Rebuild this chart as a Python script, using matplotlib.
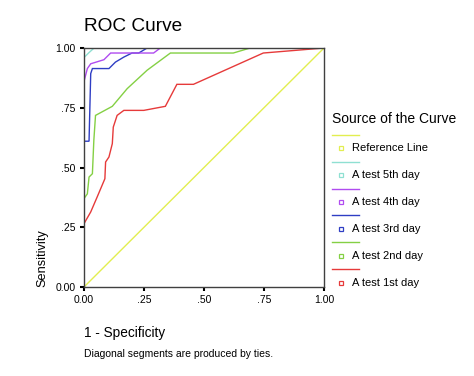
import matplotlib
matplotlib.use('Agg')
import matplotlib.pyplot as plt
from matplotlib.lines import Line2D

plt.rcParams['font.family'] = ['Liberation Sans', 'DejaVu Sans']

# ROC points (1 - specificity, sensitivity)
x_day1 = [0.0, 0.0, 0.028, 0.055, 0.087, 0.090, 0.104, 0.118, 0.122, 0.138, 0.166, 0.249, 0.339, 0.387, 0.456, 0.747, 1.0]
y_day1 = [0.0, 0.265, 0.314, 0.377, 0.453, 0.523, 0.544, 0.600, 0.669, 0.718, 0.739, 0.739, 0.756, 0.848, 0.848, 0.979, 1.0]

x_day2 = [0.0, 0.0, 0.014, 0.021, 0.035, 0.041, 0.048, 0.118, 0.180, 0.263, 0.360, 0.622, 0.692, 1.0]
y_day2 = [0.0, 0.370, 0.390, 0.460, 0.474, 0.614, 0.718, 0.756, 0.830, 0.907, 0.979, 0.979, 1.0, 1.0]

x_day3 = [0.0, 0.0, 0.021, 0.028, 0.035, 0.104, 0.131, 0.166, 0.200, 0.228, 0.263, 1.0]
y_day3 = [0.0, 0.610, 0.610, 0.893, 0.914, 0.914, 0.941, 0.962, 0.979, 0.979, 1.0, 1.0]

x_day4 = [0.0, 0.0, 0.014, 0.028, 0.083, 0.111, 0.290, 0.318, 1.0]
y_day4 = [0.0, 0.860, 0.914, 0.934, 0.951, 0.979, 0.979, 1.0, 1.0]

x_day5 = [0.0, 0.0, 0.020, 0.042, 1.0]
y_day5 = [0.0, 0.960, 0.980, 1.0, 1.0]

x_ref = [0.0, 1.0]
y_ref = [0.0, 1.0]

labels = ['Reference Line', 'A test 5th day', 'A test 4th day', 'A test 3rd day', 'A test 2nd day', 'A test 1st day']
colors = ['#e2ee50', '#8fe0d2', '#b04cf0', '#2f3ec4', '#84d044', '#e63a3a']
ticks = [0.0, 0.25, 0.5, 0.75, 1.0]
tick_labels = ['0.00', '.25', '.50', '.75', '1.00']

series = [(x_ref, y_ref), (x_day5, y_day5), (x_day4, y_day4),
          (x_day3, y_day3), (x_day2, y_day2), (x_day1, y_day1)]

fig = plt.figure(figsize=(4.74, 3.76), dpi=100)
W, H = 474, 376
ax = fig.add_axes([84 / W, 1 - 287 / H, 240 / W, 239 / H])

# draw reference first, then 1st day ... 5th day on top
order = [0, 5, 4, 3, 2, 1]
for i in order:
    xs, ys = series[i]
    ax.plot(xs, ys, color=colors[i], lw=1.0, solid_joinstyle='miter')

ax.set_xlim(0, 1)
ax.set_ylim(0, 1)
ax.set_xticks(ticks)
ax.set_yticks(ticks)
ax.set_xticklabels(tick_labels)
ax.set_yticklabels(tick_labels)
ax.tick_params(direction='out', length=3, width=1.5, labelsize=7.5, pad=3, color='black')
for s in ax.spines.values():
    s.set_color('#404040')
    s.set_linewidth(1.0)

fig.text(84 / W, 1 - 31 / H, 'ROC Curve', fontsize=13.7, ha='left', va='baseline')
fig.text(84 / W, 1 - 337 / H, '1 - Specificity', fontsize=9.8, ha='left', va='baseline')
fig.text(84 / W, 1 - 357 / H, 'Diagonal segments are produced by ties.', fontsize=7.5, ha='left', va='baseline')
fig.text(42 / W, 1 - 287 / H, 'Sensitivity', fontsize=9.2, rotation=90, ha='center', va='bottom')

# legend drawn by hand, SPSS style
fig.text(332 / W, 1 - 123 / H, 'Source of the Curve', fontsize=10, ha='left', va='baseline')
for k, (lab, col) in enumerate(zip(labels, colors)):
    yl = 135 + k * 26.8
    fig.add_artist(Line2D([332 / W, 359 / W], [1 - yl / H, 1 - yl / H], color=col, lw=1.0))
    fig.add_artist(Line2D([340.5 / W], [1 - (yl + 13.5) / H], marker='s', ms=3.2,
                          mfc='none', mec=col, mew=0.9, lw=0))
    fig.text(352 / W, 1 - (yl + 13.5) / H, lab, fontsize=8, ha='left', va='center')

fig.savefig('out.png', dpi=100)
